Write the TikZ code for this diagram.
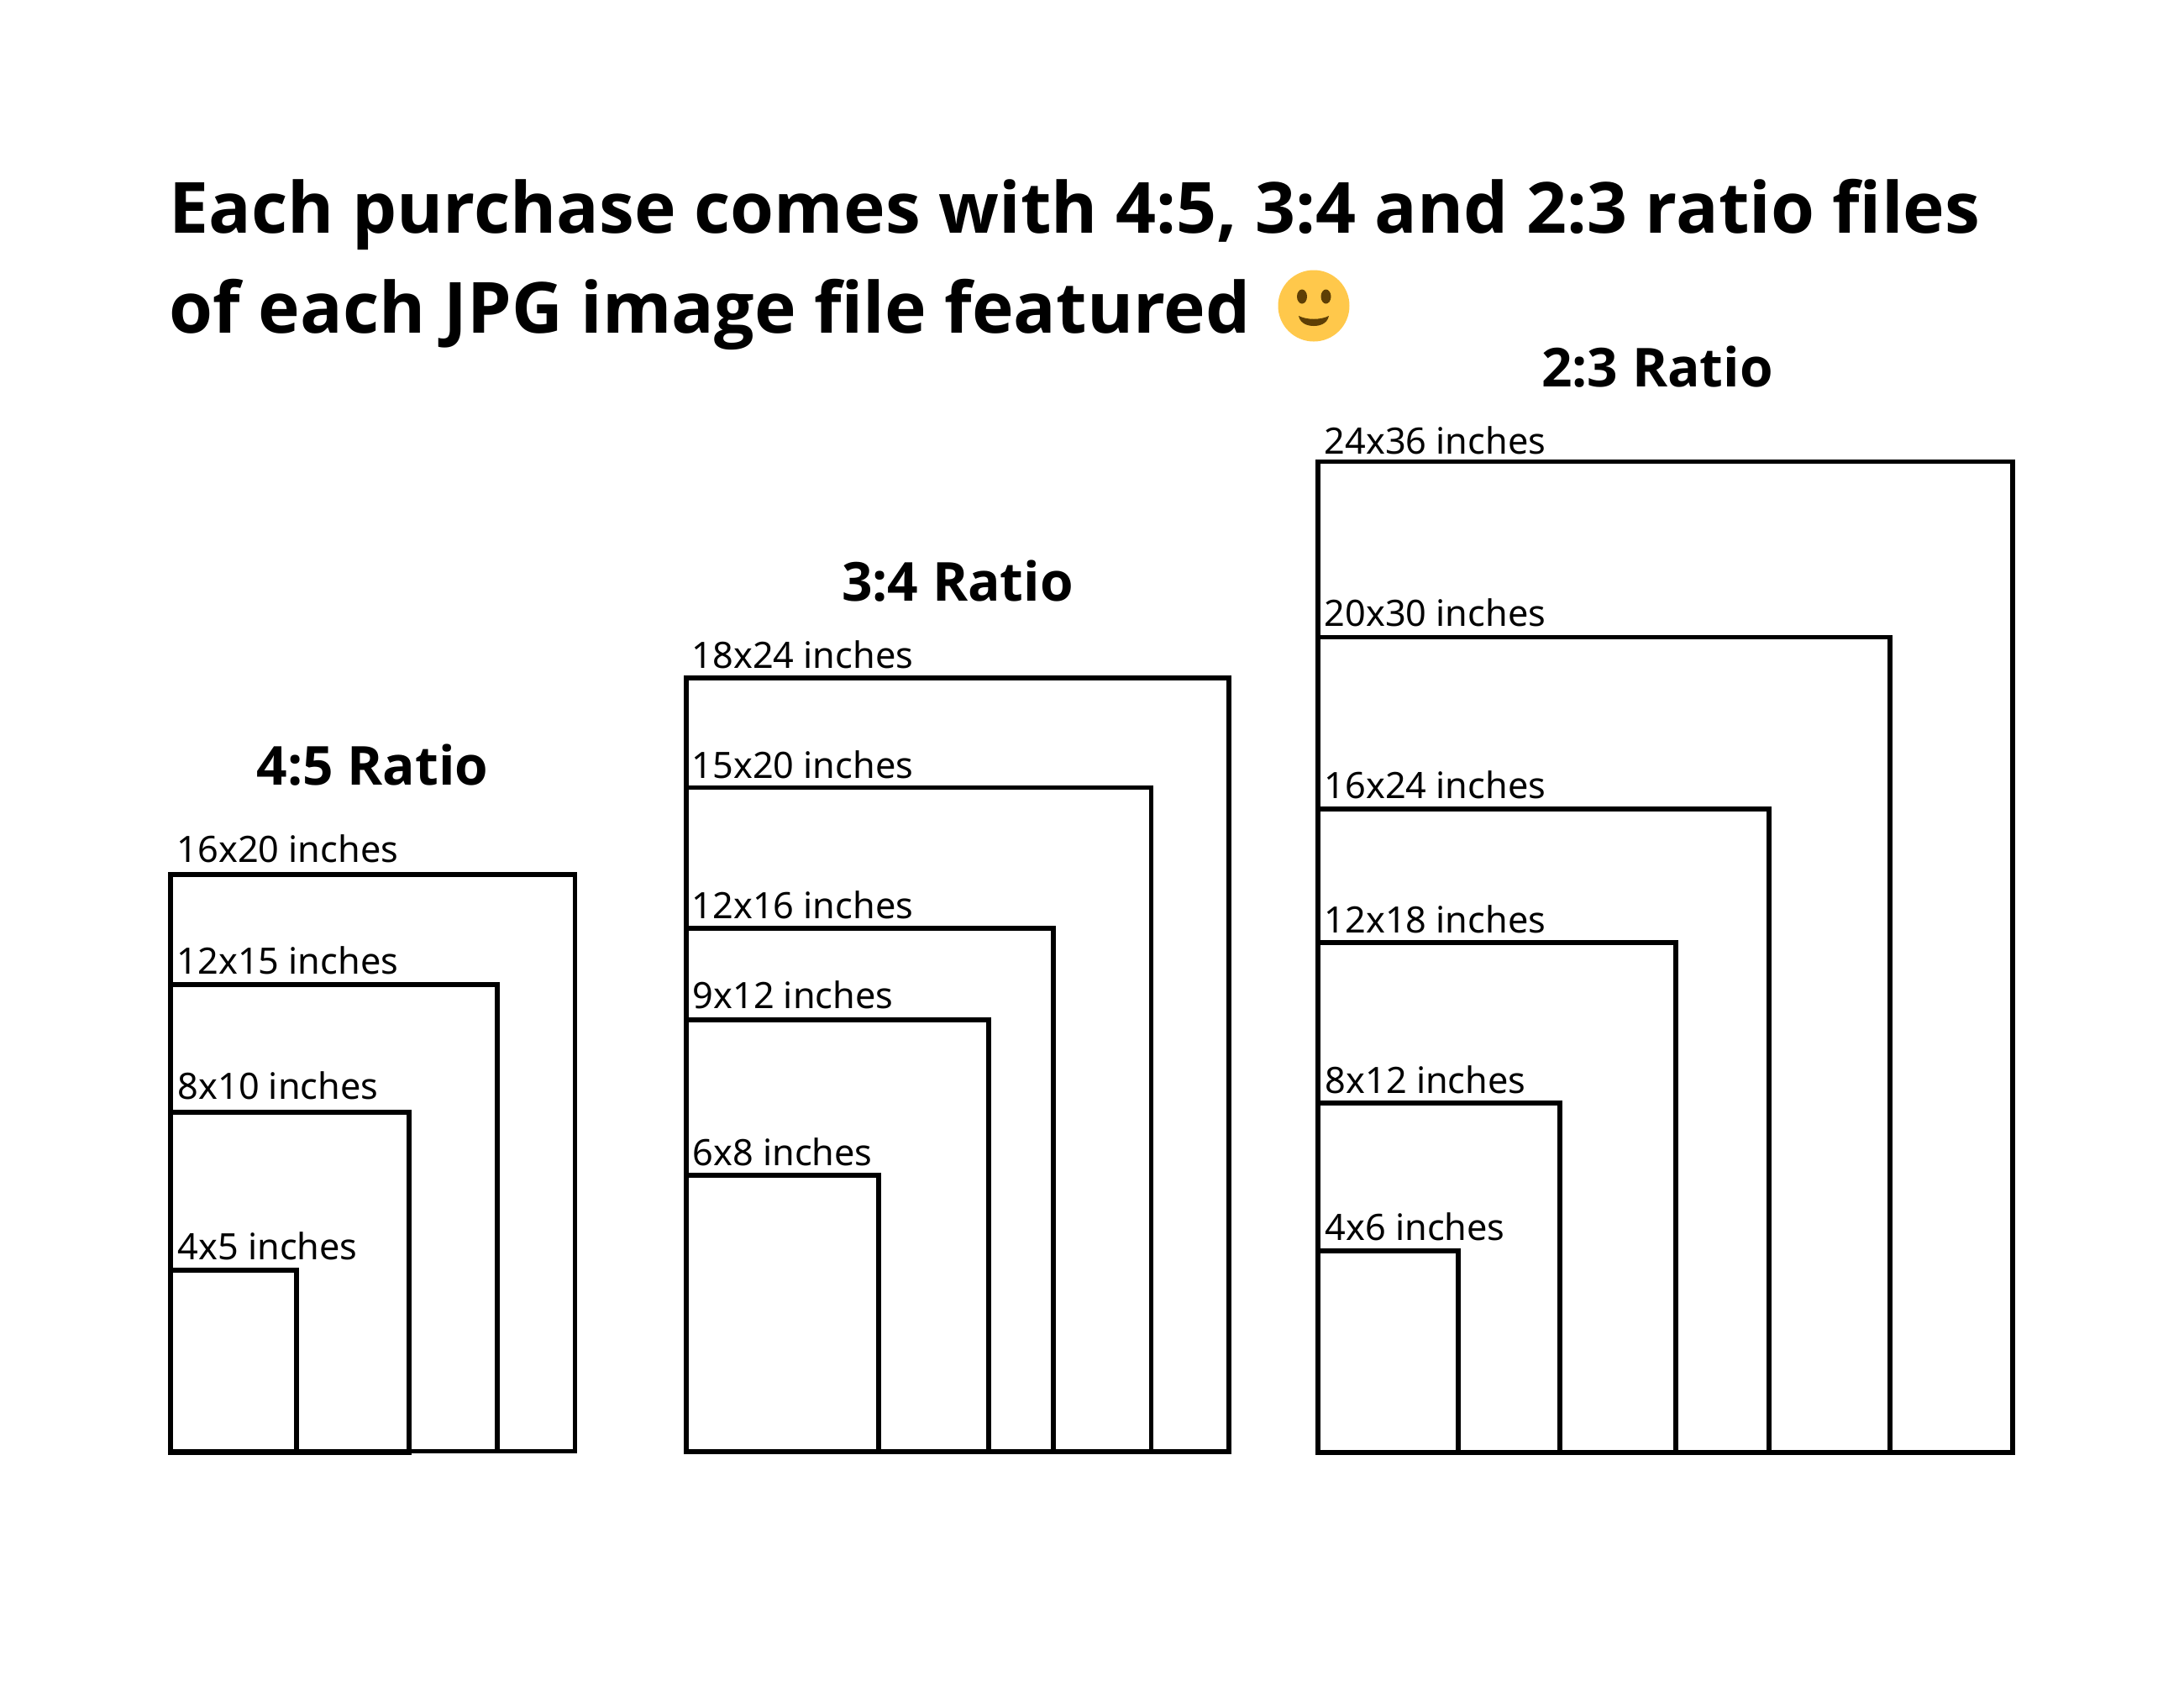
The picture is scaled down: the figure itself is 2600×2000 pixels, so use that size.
\documentclass[tikz,border=0pt]{standalone}
\usepackage{fontspec}
\setmainfont{Noto Sans}
\newfontfamily\headfont{Open Sans}
\usepackage{xcolor}
\usetikzlibrary{positioning}
\definecolor{smileface}{HTML}{FFC84B}
\definecolor{smileink}{HTML}{5E3F05}
\tikzset{
	frame/.style={line width=0.58mm,draw=black},
	sizelabel/.style={anchor=base west,inner sep=0pt,font=\fontsize{12.3}{14}\selectfont},
	ratiolabel/.style={anchor=base,inner sep=0pt,font=\headfont\bfseries\fontsize{18.2}{24}\selectfont},
	titleline/.style={anchor=base west,inner sep=0pt,font=\headfont\bfseries\fontsize{23.9}{32}\selectfont}
}
\begin{document}
\begin{tikzpicture}[x=0.1mm,y=-0.1mm]

	\useasboundingbox (0,0) rectangle (2600,2000);

	\node[titleline] at (201,277) (title1) {Each purchase comes with 4:5, 3:4 and 2:3 ratio files};
	\node[titleline] at (201,396) (title2) {of each JPG image file featured};

	\node[circle,fill=smileface,inner sep=0pt,minimum size=8.5mm] at (1564,364) (smiley) {};
	\fill[smileink] (1550,353) ellipse (6 and 8.5);
	\fill[smileink] (1578.5,353) ellipse (6 and 8.5);
	\fill[smileink] (1546,376) .. controls (1556,381) and (1572,381) .. (1582,376) .. controls (1580,386) and (1570,388) .. (1564,388) .. controls (1558,388) and (1548,386) .. (1546,376) -- cycle;

	\node[ratiolabel] at (443.5,934) (ratioA) {4:5 Ratio};
	\draw[frame] (203,1041) rectangle (684.5,1727.5);
	\draw[frame] (203,1172) rectangle (592,1727.5);
	\draw[frame] (203,1324) rectangle (487,1729);
	\draw[frame] (203,1512) rectangle (353,1729);
	\node[sizelabel] at (210,1026) (a16) {16x20 inches};
	\node[sizelabel] at (210,1159) (a12) {12x15 inches};
	\node[sizelabel] at (211,1308) (a8) {8x10 inches};
	\node[sizelabel] at (211,1499) (a4) {4x5 inches};

	\node[ratiolabel] at (1140,715.5) (ratioB) {3:4 Ratio};
	\draw[frame] (817,807) rectangle (1463,1728);
	\draw[frame] (817,937.5) rectangle (1370.5,1728);
	\draw[frame] (817,1105) rectangle (1254,1728);
	\draw[frame] (817,1214) rectangle (1177,1728);
	\draw[frame] (817,1399) rectangle (1046,1728);
	\node[sizelabel] at (823,795) (b18) {18x24 inches};
	\node[sizelabel] at (823,926) (b15) {15x20 inches};
	\node[sizelabel] at (823,1093) (b12) {12x16 inches};
	\node[sizelabel] at (824,1200.5) (b9) {9x12 inches};
	\node[sizelabel] at (824,1387) (b6) {6x8 inches};

	\node[ratiolabel] at (1973,460) (ratioC) {2:3 Ratio};
	\draw[frame] (1569,549.5) rectangle (2396,1729);
	\draw[frame] (1569,758.5) rectangle (2250,1729);
	\draw[frame] (1569,963) rectangle (2106,1729);
	\draw[frame] (1569,1122) rectangle (1995,1729);
	\draw[frame] (1569,1313) rectangle (1857,1729);
	\draw[frame] (1569,1489) rectangle (1736,1729);
	\node[sizelabel] at (1576,540) (c24) {24x36 inches};
	\node[sizelabel] at (1576,745) (c20) {20x30 inches};
	\node[sizelabel] at (1576,950.5) (c16) {16x24 inches};
	\node[sizelabel] at (1576,1110) (c12) {12x18 inches};
	\node[sizelabel] at (1577,1301.5) (c8) {8x12 inches};
	\node[sizelabel] at (1577,1476.5) (c4) {4x6 inches};

\end{tikzpicture}
\end{document}
